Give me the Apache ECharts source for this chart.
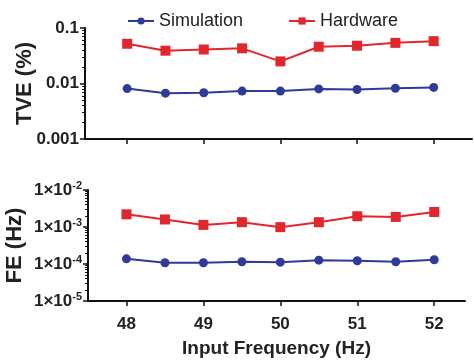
<!DOCTYPE html>
<html><head><meta charset="utf-8">
<script src="https://cdn.jsdelivr.net/npm/echarts@6/dist/echarts.min.js"></script>
<style>html,body{margin:0;padding:0;background:#fff}#c{width:474px;height:361px}</style>
</head><body><div id="c"></div>
<script>
const freqs = [48, 48.5, 49, 49.5, 50, 50.5, 51, 51.5, 52];
const xTickLabels = [48, 49, 50, 51, 52];
const tveSimulation = [0.0081, 0.0067, 0.0068, 0.0073, 0.0073, 0.0080, 0.0078, 0.0082, 0.0085];
const tveHardware = [0.052, 0.039, 0.041, 0.043, 0.025, 0.046, 0.048, 0.054, 0.058];
const feSimulation = [1.38e-4, 1.08e-4, 1.08e-4, 1.15e-4, 1.12e-4, 1.27e-4, 1.22e-4, 1.15e-4, 1.30e-4];
const feHardware = [2.2e-3, 1.6e-3, 1.14e-3, 1.35e-3, 0.99e-3, 1.35e-3, 1.95e-3, 1.87e-3, 2.55e-3];
const tveTickLabels = {'-3': '0.001', '-2': '0.01', '-1': '0.1'};
const feTickExponents = ['-5', '-4', '-3', '-2'];
const tveDecades = [-3, -2];
const feDecades = [-5, -4, -3];

const BLUE = '#2d3b9b', RED = '#e3262c';
const FONT = 'Liberation Sans';
const chart = echarts.init(document.getElementById('c'));
const pair = a => a.map((v, i) => [freqs[i], v]);
const minorValues = decs => {
  const out = [];
  decs.forEach(k => { for (let m = 2; m <= 9; m++) out.push(+(m * Math.pow(10, k)).toPrecision(6)); });
  return out;
};
const axisLineStyle = {show: true, lineStyle: {color: '#111', width: 2}};
function yAxisBase(gi, min, max, name, gap) {
  return {
    type: 'log', logBase: 10, gridIndex: gi, min: min, max: max,
    name: name, nameLocation: 'middle', nameGap: gap, nameRotate: 90, nameMoveOverlap: false,
    nameTextStyle: {fontFamily: FONT, fontWeight: 'bold', fontSize: 22, color: '#222'},
    axisLine: axisLineStyle,
    axisTick: {show: true, length: 5, lineStyle: {color: '#111', width: 1.5}},
    splitLine: {show: false}
  };
}
function minorAxis(gi, min, max, decs) {
  return {
    type: 'log', logBase: 10, gridIndex: gi, min: min, max: max, position: 'left',
    axisLine: {show: false},
    axisTick: {show: true, length: 3, customValues: minorValues(decs), lineStyle: {color: '#111', width: 1}},
    axisLabel: {show: false}, splitLine: {show: false}
  };
}
const option = {
  animation: false,
  legend: {
    left: 122, top: 7, itemWidth: 26, itemHeight: 9, itemGap: 45,
    textStyle: {fontFamily: FONT, fontSize: 18, color: '#222'},
    data: ['Simulation', 'Hardware']
  },
  grid: [
    {left: 85, top: 28, width: 387, height: 111, outerBoundsMode: 'none', containLabel: false},
    {left: 88, top: 190, width: 377, height: 111, outerBoundsMode: 'none', containLabel: false}
  ],
  xAxis: [
    {type: 'value', gridIndex: 0, min: 47.45, max: 52.5,
     axisLine: axisLineStyle,
     axisTick: {show: true, length: 5, customValues: xTickLabels, lineStyle: {color: '#111', width: 1.5}},
     axisLabel: {show: false}, splitLine: {show: false}},
    {type: 'value', gridIndex: 1, min: 47.5, max: 52.4,
     name: 'Input Frequency (Hz)', nameLocation: 'middle', nameGap: 38, nameMoveOverlap: false,
     nameTextStyle: {fontFamily: FONT, fontWeight: 'bold', fontSize: 19, color: '#222'},
     axisLine: axisLineStyle,
     axisTick: {show: true, length: 5, customValues: xTickLabels, lineStyle: {color: '#111', width: 1.5}},
     axisLabel: {show: true, customValues: xTickLabels, margin: 15,
       fontFamily: FONT, fontWeight: 'bold', fontSize: 17, color: '#222'},
     splitLine: {show: false}}
  ],
  yAxis: [
    Object.assign(yAxisBase(0, 0.001, 0.1, 'TVE (%)', 49), {
      axisLabel: {margin: 6, fontFamily: FONT, fontWeight: 'bold', fontSize: 17, color: '#222',
        formatter: v => tveTickLabels[String(Math.round(Math.log10(v)))] || ''}
    }),
    Object.assign(yAxisBase(1, 1e-5, 1e-2, 'FE (Hz)', 62), {
      axisLabel: {margin: 6, fontFamily: FONT, fontWeight: 'bold', fontSize: 17, color: '#222',
        formatter: v => {
          const e = String(Math.round(Math.log10(v)));
          return feTickExponents.indexOf(e) >= 0 ? '1×10{sup|' + e + '}' : '';
        },
        rich: {sup: {fontFamily: FONT, fontWeight: 'bold', fontSize: 11, color: '#222', verticalAlign: 'top', padding: [0, 0, 9, 0]}}}
    }),
    minorAxis(0, 0.001, 0.1, tveDecades),
    minorAxis(1, 1e-5, 1e-2, feDecades)
  ],
  series: [
    {name: 'Simulation', type: 'line', xAxisIndex: 0, yAxisIndex: 0, data: pair(tveSimulation),
     symbol: 'circle', symbolSize: 9, color: BLUE, lineStyle: {width: 2}},
    {name: 'Hardware', type: 'line', xAxisIndex: 0, yAxisIndex: 0, data: pair(tveHardware),
     symbol: 'rect', symbolSize: 10, color: RED, lineStyle: {width: 2}},
    {name: 'Simulation', type: 'line', xAxisIndex: 1, yAxisIndex: 1, data: pair(feSimulation),
     symbol: 'circle', symbolSize: 9, color: BLUE, lineStyle: {width: 2}},
    {name: 'Hardware', type: 'line', xAxisIndex: 1, yAxisIndex: 1, data: pair(feHardware),
     symbol: 'rect', symbolSize: 10, color: RED, lineStyle: {width: 2}}
  ]
};
chart.setOption(option);
</script></body></html>
